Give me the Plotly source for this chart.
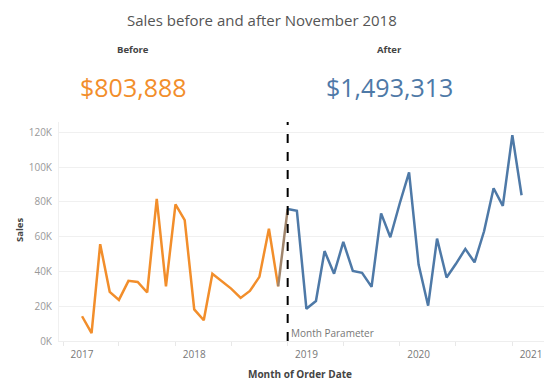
import plotly.graph_objects as go

# ---- data ----
months = [f"{y}-{m:02d}-01" for y in (2017, 2018, 2019, 2020) for m in range(1, 13)]
sales = [
    14240, 4520, 55691, 28295, 23648, 34595, 33946, 27909, 81777, 31453, 78629, 69546,
    18174, 11951, 38726, 34195, 30132, 24797, 28765, 36898, 64596, 31405, 75973, 74919,
    18542, 22979, 51716, 38750, 56988, 40344, 39262, 31115, 73410, 59688, 79412, 96999,
    43971, 20301, 58872, 36522, 44261, 52982, 45264, 63121, 87867, 77777, 118448, 83830,
]
parameter_month = "2018-11-01"
split = months.index(parameter_month)
before_x, before_y = months[:split], sales[:split]
after_x, after_y = months[split:], sales[split:]
bridge_x, bridge_y = months[split - 1:split + 1], sales[split - 1:split + 1]
before_total = sum(before_y)
after_total = sum(after_y)

y_ticks = [0, 20000, 40000, 60000, 80000, 100000, 120000]
y_tick_labels = ["0K", "20K", "40K", "60K", "80K", "100K", "120K"]
x_ticks = ["2017-01-01", "2018-01-01", "2019-01-01", "2020-01-01", "2021-01-01"]
x_tick_labels = ["2017", "2018", "2019", "2020", "2021"]

ORANGE = "#F28E2B"
BLUE = "#4E79A7"
FONT = "Open Sans"

W, H = 551, 389
L, R, T, B = 59, 7, 122, 48
PW, PH = W - L - R, H - T - B


def px(x):
    return (x - L) / PW


def py(y):
    return (H - B - y) / PH


fig = go.Figure()
fig.add_trace(go.Scatter(x=before_x, y=before_y, mode="lines",
                         line=dict(color=ORANGE, width=2.5), showlegend=False))
fig.add_trace(go.Scatter(x=bridge_x, y=bridge_y, mode="lines",
                         line=dict(color="#a0856c", width=2.5), showlegend=False))
fig.add_trace(go.Scatter(x=after_x, y=after_y, mode="lines",
                         line=dict(color=BLUE, width=2.5), showlegend=False))

fig.add_shape(type="line", xref="x", yref="paper", x0=parameter_month, x1=parameter_month,
              y0=0, y1=1, line=dict(color="black", width=2, dash="dash"))

ann = [
    dict(text="Sales before and after November 2018", x=px(262), y=py(20),
         font=dict(size=15, color="#555555")),
    dict(text="<b>Before</b>", x=px(133), y=py(49), font=dict(size=9.5, color="#444444")),
    dict(text="<b>After</b>", x=px(389), y=py(49), font=dict(size=9.5, color="#444444")),
    dict(text=f"${before_total:,}", x=px(133), y=py(87), font=dict(size=25, color=ORANGE)),
    dict(text=f"${after_total:,}", x=px(389), y=py(87), font=dict(size=25, color=BLUE)),
    dict(text="<b>Sales</b>", x=px(19), y=py(230), textangle=-90,
         font=dict(size=9.5, color="#444444")),
    dict(text="<b>Month of Order Date</b>", x=px(300), y=py(374),
         font=dict(size=10, color="#444444")),
]
for a in ann:
    fig.add_annotation(xref="paper", yref="paper", showarrow=False,
                       xanchor="center", yanchor="middle", **a)

fig.add_annotation(x=parameter_month, xref="x", y=py(333), yref="paper", showarrow=False,
                   text="Month Parameter", xanchor="left", yanchor="middle", xshift=1,
                   font=dict(size=10, color="#777777"))

fig.update_layout(
    width=W, height=H,
    margin=dict(l=L, r=R, t=T, b=B, autoexpand=False),
    paper_bgcolor="white", plot_bgcolor="white",
    font=dict(family=FONT),
    xaxis=dict(
        automargin=False,
        range=["2016-10-18", "2021-02-12"],
        tickvals=x_ticks, ticktext=x_tick_labels,
        tickfont=dict(size=10, color="#777777"),
        showgrid=False, zeroline=False,
        showline=True, linecolor="#eeeeee", linewidth=1,
        ticks="", ticklabelstandoff=4,
        minor=dict(ticks="outside", ticklen=4, tickcolor="#e8e8e8",
                   dtick="M6", tick0="2016-11-01"),
    ),
    yaxis=dict(
        automargin=False,
        range=[0, 126000],
        tickvals=y_ticks, ticktext=y_tick_labels,
        tickfont=dict(size=10, color="#999999"),
        showgrid=True, gridcolor="#f0f0f0", gridwidth=1,
        zeroline=False, showline=True, linecolor="#f0f0f0", linewidth=1,
        ticks="", ticklabelstandoff=4,
    ),
)

fig.write_html("out.html", config={"displayModeBar": False},
               post_script="document.body.style.margin='0';")
